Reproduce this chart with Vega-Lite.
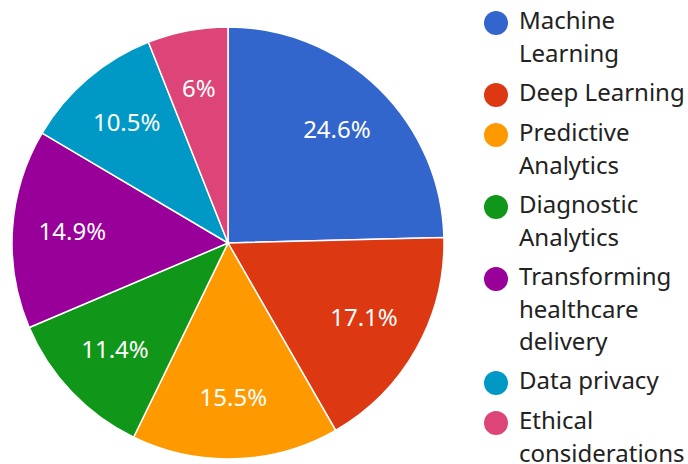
{
  "$schema": "https://vega.github.io/schema/vega-lite/v6.json",
  "width": 456,
  "height": 442,
  "padding": {"top": 11, "left": 0, "right": 0, "bottom": 0},
  "background": "white",
  "config": {
    "view": {"stroke": null},
    "font": "Noto Sans",
    "style": {"guide-label": {"lineHeight": 32.5, "dy": -13}}
  },
  "data": {
    "values": [
      {"topic": "Machine Learning", "pct": "24.6%", "value": 24.6, "order": 1},
      {"topic": "Deep Learning", "pct": "17.1%", "value": 17.1, "order": 2},
      {"topic": "Predictive Analytics", "pct": "15.5%", "value": 15.5, "order": 3},
      {"topic": "Diagnostic Analytics", "pct": "11.4%", "value": 11.4, "order": 4},
      {"topic": "Transforming healthcare delivery", "pct": "14.9%", "value": 14.9, "order": 5},
      {"topic": "Data privacy", "pct": "10.5%", "value": 10.5, "order": 6},
      {"topic": "Ethical considerations", "pct": "6%", "value": 6, "order": 7}
    ]
  },
  "encoding": {
    "theta": {"field": "value", "type": "quantitative", "stack": true},
    "order": {"field": "order", "type": "quantitative"}
  },
  "layer": [
    {
      "mark": {"type": "arc", "outerRadius": 216, "stroke": "white", "strokeWidth": 1.5},
      "encoding": {
        "color": {
          "field": "topic",
          "type": "nominal",
          "sort": {"field": "order"},
          "scale": {
            "domain": ["Machine Learning", "Deep Learning", "Predictive Analytics", "Diagnostic Analytics", "Transforming healthcare delivery", "Data privacy", "Ethical considerations"],
            "range": ["#3366cc", "#dc3912", "#ff9900", "#109618", "#990099", "#0099c6", "#dd4477"]
          },
          "legend": {
            "title": null,
            "orient": "none",
            "legendX": 484,
            "legendY": -11,
            "symbolType": "circle",
            "symbolSize": 576,
            "symbolStrokeWidth": 0,
            "labelFontSize": 24,
            "labelColor": "#222222",
            "labelFont": "Noto Sans",
            "labelLimit": 300,
            "labelOffset": 11,
            "labelBaseline": "top",
            "rowPadding": 15,
            "labelExpr": "split(indexof(datum.label, 'Transforming') >= 0 ? 'Transforming\\nhealthcare\\ndelivery' : datum.label == 'Machine Learning' ? 'Machine\\nLearning' : datum.label == 'Predictive Analytics' ? 'Predictive\\nAnalytics' : datum.label == 'Diagnostic Analytics' ? 'Diagnostic\\nAnalytics' : datum.label == 'Ethical considerations' ? 'Ethical\\nconsiderations' : datum.label, '\\n')"
          }
        }
      }
    },
    {
      "mark": {"type": "text", "radius": 156, "fontSize": 24, "fill": "white", "font": "Noto Sans"},
      "encoding": {
        "text": {"field": "pct", "type": "nominal"}
      }
    }
  ]
}
